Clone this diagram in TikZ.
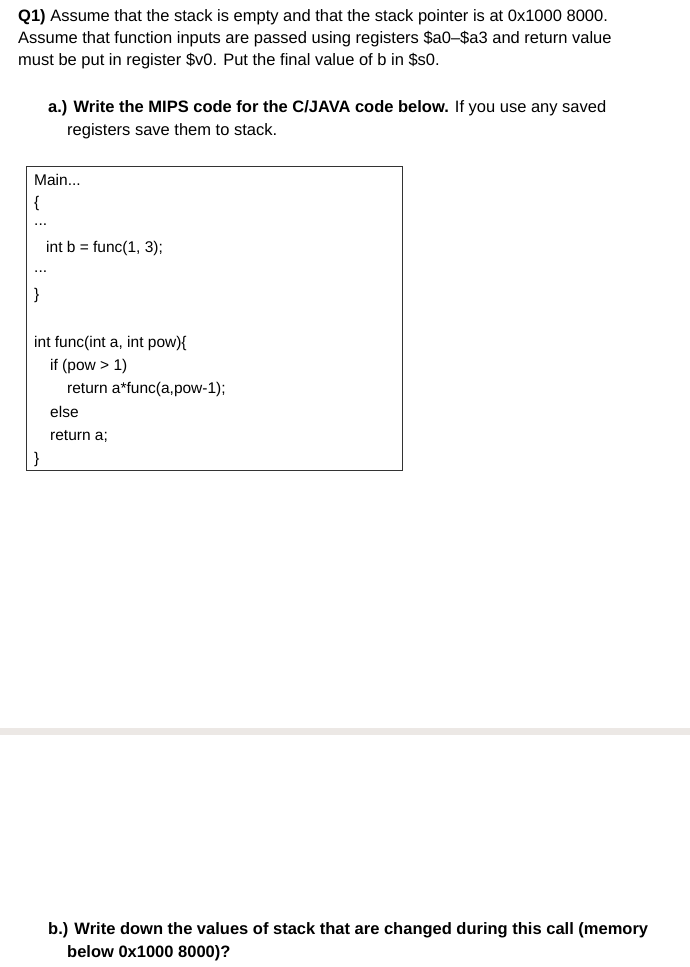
\documentclass[tikz,border=0pt]{standalone}
\usepackage{fontspec}
\setmainfont{Liberation Sans}
\begin{document}
\begin{tikzpicture}[x=1pt,y=-1pt,
  txt/.style={anchor=west,inner sep=0pt,font=\fontsize{16.5}{20}\selectfont},
  code/.style={anchor=west,inner sep=0pt,font=\fontsize{15.5}{19}\selectfont}]
\useasboundingbox (0,0) rectangle (690,967);
\node[txt] (l1) at (18,17) {\textbf{Q1)} Assume that the stack is empty and that the stack pointer is at 0x1000 8000.};
\node[txt] (l2) at (18,39) {Assume that function inputs are passed using registers \$a0--\$a3 and return value};
\node[txt] (l3) at (18,61) {must be put in register \$v0. Put the final value of b in \$s0.};
\node[txt] (a1) at (48,108) {\textbf{a.) Write the MIPS code for the C/JAVA code below.} If you use any saved};
\node[txt] (a2) at (67,131) {registers save them to stack.};
\draw[line width=0.8pt,black!80] (26,166) rectangle (402,470);
\node[code] (c1) at (34,180) {Main...};
\node[code] (c2) at (34,203) {\{};
\node[code] (c3) at (34,225) {...};
\node[code] (c4) at (46,248) {int b = func(1, 3);};
\node[code] (c5) at (34,272) {...};
\node[code] (c6) at (34,295) {\}};
\node[code] (c7) at (34,343) {int func(int a, int pow)\{};
\node[code] (c8) at (50,366) {if (pow > 1)};
\node[code] (c9) at (67,389) {return a*func(a,pow-1);};
\node[code] (c10) at (50,412) {else};
\node[code] (c11) at (50,436) {return a;};
\node[code] (c12) at (34,459) {\}};
\fill[color={rgb,255:red,236;green,232;blue,229}] (0,728) rectangle (690,735);
\node[txt] (b1) at (48,930) {\textbf{b.) Write down the values of stack that are changed during this call (memory}};
\node[txt] (b2) at (67,953) {\textbf{below 0x1000 8000)?}};
\end{tikzpicture}
\end{document}
